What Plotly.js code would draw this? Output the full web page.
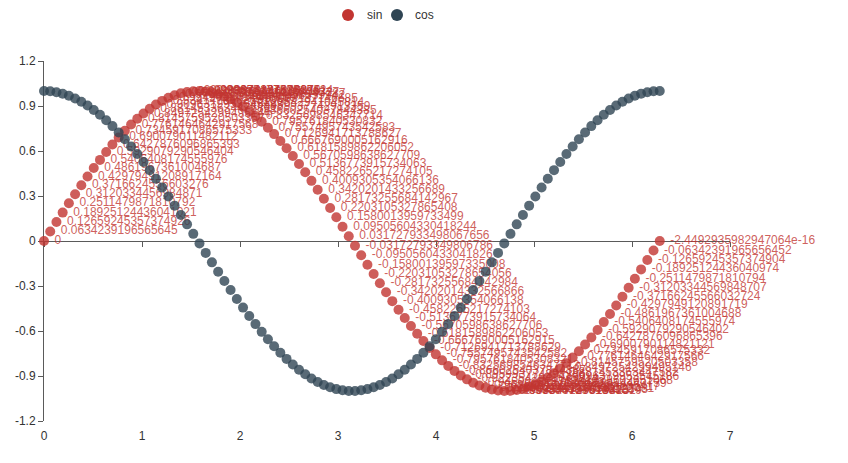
<!DOCTYPE html>
<html>
<head>
<meta charset="utf-8">
<script src="https://cdn.plot.ly/plotly-3.0.1.min.js"></script>
<style>
html,body{margin:0;padding:0;background:#fff;}
#chart{width:848px;height:463px;}
</style>
</head>
<body>
<div id="chart"></div>
<script>
const seriesNames = ['sin', 'cos'];
const seriesColors = ['#c23531', '#2f4554'];

const xValues = [
  0, 0.06347, 0.12693, 0.19040, 0.25387, 0.31733, 0.38080, 0.44427, 0.50773, 0.57120,
  0.63467, 0.69813, 0.76160, 0.82506, 0.88853, 0.95200, 1.01546, 1.07893, 1.14240, 1.20586,
  1.26933, 1.33280, 1.39626, 1.45973, 1.52320, 1.58666, 1.65013, 1.71360, 1.77706, 1.84053,
  1.90400, 1.96746, 2.03093, 2.09440, 2.15786, 2.22133, 2.28479, 2.34826, 2.41173, 2.47519,
  2.53866, 2.60213, 2.66559, 2.72906, 2.79253, 2.85599, 2.91946, 2.98293, 3.04639, 3.10986,
  3.17333, 3.23679, 3.30026, 3.36373, 3.42719, 3.49066, 3.55413, 3.61759, 3.68106, 3.74452,
  3.80799, 3.87146, 3.93492, 3.99839, 4.06186, 4.12532, 4.18879, 4.25226, 4.31572, 4.37919,
  4.44266, 4.50612, 4.56959, 4.63306, 4.69652, 4.75999, 4.82346, 4.88692, 4.95039, 5.01386,
  5.07732, 5.14079, 5.20425, 5.26772, 5.33119, 5.39465, 5.45812, 5.52159, 5.58505, 5.64852,
  5.71199, 5.77545, 5.83892, 5.90239, 5.96585, 6.02932, 6.09279, 6.15625, 6.21972, 6.28319
];

const sinValues = [
  0, 0.0634239196565645, 0.12659245357374926, 0.18925124436041021, 0.2511479871810792,
  0.3120334456984871, 0.3716624556603276, 0.42979491208917164, 0.4861967361004687, 0.5406408174555975,
  0.5929079290546404, 0.6427876096865393, 0.690079011482112, 0.7345917086575333, 0.7761464642917568,
  0.8145759520503357, 0.8497254299495144, 0.8814533634475821, 0.9096319953545183, 0.9341478602651068,
  0.9549022414440739, 0.9718115683235417, 0.984807753012208, 0.9938384644612541, 0.9988673391830078,
  0.9998741276738751, 0.9968547759519424, 0.9898214418809327, 0.9788024462147787, 0.963842158559942,
  0.9450008187146685, 0.9223542941045814, 0.8959937742913359, 0.8660254037844385, 0.8325698546347714,
  0.795761840530832, 0.7557495743542583, 0.7126941713788627, 0.6667690005162916, 0.6181589862206052,
  0.5670598638627708, 0.5136773915734063, 0.4582265217274105, 0.4009305354066136, 0.3420201433256689,
  0.28173255684142967, 0.2203105327865408, 0.1580013959733499, 0.09505604330418243, 0.031727933498067656,
  -0.03172793349806786, -0.0950560433041826, -0.15800139597335008, -0.22031053278654056, -0.28173255684142983,
  -0.34202014332566865, -0.4009305354066138, -0.4582265217274103, -0.5136773915734064, -0.5670598638627706,
  -0.6181589862206053, -0.6667690005162915, -0.7126941713788629, -0.7557495743542582, -0.7957618405308321,
  -0.8325698546347713, -0.8660254037844387, -0.895993774291336, -0.9223542941045814, -0.9450008187146683,
  -0.9638421585599422, -0.9788024462147787, -0.9898214418809327, -0.9968547759519423, -0.9998741276738751,
  -0.9988673391830079, -0.9938384644612543, -0.9848077530122081, -0.9718115683235417, -0.9549022414440739,
  -0.9341478602651068, -0.9096319953545186, -0.881453363447582, -0.8497254299495146, -0.8145759520503358,
  -0.7761464642917566, -0.7345917086575332, -0.6900790114821122, -0.6427876096865396, -0.5929079290546402,
  -0.5406408174555974, -0.4861967361004688, -0.4297949120891719, -0.37166245566032724, -0.31203344569848706,
  -0.2511479871810794, -0.18925124436040974, -0.12659245357374904, -0.06342391965656452, -2.4492935982947064e-16
];

const cosValues = [
  1, 0.9979866765, 0.9919548128, 0.9819286967, 0.9679487013, 0.9500711176, 0.9283679324, 0.9029265382, 0.8738493774, 0.8412535327,
  0.8052702572, 0.7660444431, 0.7237340382, 0.6785094116, 0.6305526671, 0.5800569095, 0.5272254679, 0.4722710747, 0.4154150130, 0.3568862214,
  0.2969203753, 0.2357589356, 0.1736481777, 0.1108381998, 0.0475819159, -0.0158659638, -0.0792499568, -0.1423148383, -0.2048066682, -0.2664738136,
  -0.3270679631, -0.3863451252, -0.4440666125, -0.5, -0.5539200639, -0.6056096873, -0.6548607341, -0.7014748877, -0.7452644496, -0.7860530944,
  -0.8236765814, -0.8579834131, -0.8888354490, -0.9161084574, -0.9396926208, -0.9594929737, -0.9754297868, -0.9874388886, -0.9954719219, -0.9994965424,
  -0.9994965424, -0.9954719219, -0.9874388886, -0.9754297868, -0.9594929737, -0.9396926208, -0.9161084574, -0.8888354490, -0.8579834131, -0.8236765814,
  -0.7860530944, -0.7452644496, -0.7014748877, -0.6548607341, -0.6056096873, -0.5539200639, -0.5, -0.4440666125, -0.3863451252, -0.3270679631,
  -0.2664738136, -0.2048066682, -0.1423148383, -0.0792499568, -0.0158659638, 0.0475819159, 0.1108381998, 0.1736481777, 0.2357589356, 0.2969203753,
  0.3568862214, 0.4154150130, 0.4722710747, 0.5272254679, 0.5800569095, 0.6305526671, 0.6785094116, 0.7237340382, 0.7660444431, 0.8052702572,
  0.8412535327, 0.8738493774, 0.9029265382, 0.9283679324, 0.9500711176, 0.9679487013, 0.9819286967, 0.9919548128, 0.9979866765, 1
];

const xTickVals = [0, 1, 2, 3, 4, 5, 6, 7];
const xTickText = ['0', '1', '2', '3', '4', '5', '6', '7'];
const yTickVals = [-1.2, -0.9, -0.6, -0.3, 0, 0.3, 0.6, 0.9, 1.2];
const yTickText = ['-1.2', '-0.9', '-0.6', '-0.3', '0', '0.3', '0.6', '0.9', '1.2'];

const FONT = 'Liberation Sans, Arial, sans-serif';
const AXIS_COLOR = '#5a5a5a';
const LABEL_COLOR = '#333333';

const sinTrace = {
  type: 'scatter',
  mode: 'markers+text',
  name: seriesNames[0],
  x: xValues,
  y: sinValues,
  text: sinValues.map(v => '\u00a0' + String(v)),
  textposition: 'middle right',
  textfont: {family: FONT, size: 12, color: 'rgba(194,53,49,0.8)'},
  marker: {size: 10, color: seriesColors[0], opacity: 0.8, line: {width: 0}},
  cliponaxis: false,
  hoverinfo: 'x+y',
  xaxis: 'x',
  yaxis: 'y'
};

const cosTrace = {
  type: 'scatter',
  mode: 'markers',
  name: seriesNames[1],
  x: xValues,
  y: cosValues,
  marker: {size: 10, color: seriesColors[1], opacity: 0.8, line: {width: 0}},
  cliponaxis: false,
  hoverinfo: 'x+y',
  xaxis: 'x2',
  yaxis: 'y'
};

// legend (drawn as decoration)
const plotL = 44, plotR = 730, plotT = 61, plotB = 421;
const pw = plotR - plotL, ph = plotB - plotT;
const px = v => (v - plotL) / pw;
const py = v => (plotB - v) / ph;
const legendY = 15;
const legendItems = [
  {name: seriesNames[0], color: seriesColors[0], cx: 348, tx: 365},
  {name: seriesNames[1], color: seriesColors[1], cx: 397, tx: 413}
];

const layout = {
  width: 848,
  height: 463,
  margin: {l: plotL, r: 848 - plotR, t: plotT, b: 463 - plotB, pad: 0},
  paper_bgcolor: '#ffffff',
  plot_bgcolor: '#ffffff',
  showlegend: false,
  font: {family: FONT, size: 12, color: LABEL_COLOR},
  xaxis: {
    range: [0, 7],
    tickvals: xTickVals,
    ticktext: xTickText,
    showline: false,
    ticks: '',
    showgrid: false,
    zeroline: false,
    tickfont: {family: FONT, size: 12, color: LABEL_COLOR},
    ticklabelstandoff: 6,
    layer: 'below traces'
  },
  xaxis2: {
    range: [0, 7],
    overlaying: 'x',
    anchor: 'free',
    position: 0.5,
    side: 'bottom',
    tickvals: xTickVals,
    showticklabels: false,
    showline: true,
    linecolor: AXIS_COLOR,
    linewidth: 1,
    ticks: 'outside',
    ticklen: 5,
    tickcolor: AXIS_COLOR,
    showgrid: false,
    zeroline: false,
    layer: 'below traces'
  },
  yaxis: {
    range: [-1.2, 1.2],
    tickvals: yTickVals,
    ticktext: yTickText,
    showline: true,
    linecolor: AXIS_COLOR,
    linewidth: 1,
    ticks: 'outside',
    ticklen: 5,
    tickcolor: AXIS_COLOR,
    showgrid: false,
    zeroline: false,
    tickfont: {family: FONT, size: 12, color: LABEL_COLOR},
    layer: 'below traces'
  },
  shapes: legendItems.map(it => ({
    type: 'circle', xref: 'paper', yref: 'paper',
    xsizemode: 'pixel', ysizemode: 'pixel',
    xanchor: px(it.cx), yanchor: py(legendY),
    x0: -6, x1: 6, y0: -6, y1: 6,
    fillcolor: it.color, line: {width: 0}
  })),
  annotations: legendItems.map(it => ({
    text: it.name, xref: 'paper', yref: 'paper',
    x: px(it.tx), y: py(legendY), xanchor: 'left', yanchor: 'middle',
    showarrow: false, font: {family: FONT, size: 12, color: LABEL_COLOR}
  }))
};

Plotly.newPlot('chart', [sinTrace, cosTrace], layout, {displayModeBar: false, staticPlot: true});
</script>
</body>
</html>
